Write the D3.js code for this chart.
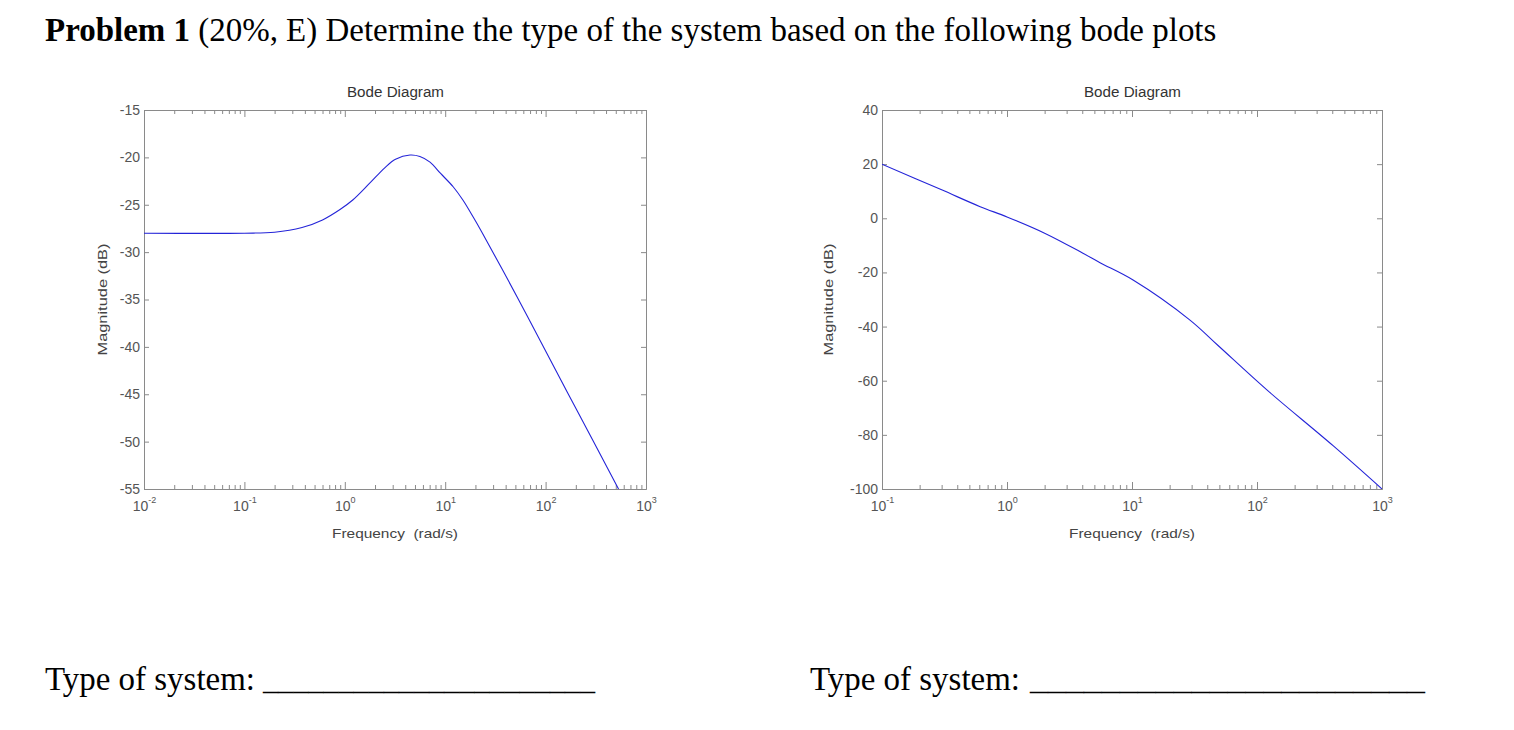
<!DOCTYPE html>
<meta charset="utf-8">
<script src="https://d3js.org/d3.v7.min.js"></script>
<style>
  body { margin: 0; background: #fff; }
  svg { display: block; }
  .tick text { font-family: "Liberation Sans", Arial, sans-serif; font-size: 14px; fill: #555; }
  .tick line, .domain { stroke: #8a8a8a; }
</style>
<div id="chart"></div>
<script>

// values
var leftFreq = [0.01, 0.1, 0.2, 0.375, 0.6, 0.896, 1.2, 1.78, 2.5, 3.2, 4.46, 5.6, 7.06, 9.0, 12, 15.0, 19, 23.2, 51.9, 87.9, 205, 526, 560];
var leftMag  = [-28, -28, -27.9, -27.4, -26.6, -25.5, -24.5, -22.7, -21.1, -20.2, -19.75, -19.9, -20.5, -21.7, -23.1, -24.5, -26.3, -27.9, -34.7, -39.3, -46.7, -54.9, -55.5];

var rightFreq = [0.1, 0.3, 0.61, 1, 2, 4.05, 5.55, 10.2, 29.1, 48.8, 120, 406, 1000];
var rightMag  = [20, 10.5, 4.3, 0.5, -5.5, -12.9, -16.4, -22.8, -37.6, -47.0, -63.4, -84, -100];

var leftYTicks = [-55, -50, -45, -40, -35, -30, -25, -20, -15];
var rightYTicks = [-100, -80, -60, -40, -20, 0, 20, 40];

var width = 1514, height = 730;

var svg = d3.select("#chart")
  .append("svg")
  .attr("width", width)
  .attr("height", height);

svg.append("rect").attr("width", width).attr("height", height).attr("fill", "#fff");

// heading
var head = svg.append("text")
  .attr("x", 45)
  .attr("y", 41)
  .style("font-family", "'Liberation Serif', 'Times New Roman', serif")
  .style("font-size", "28px")
  .attr("fill", "#000");
head.append("tspan").style("font-weight", "bold").text("Problem 1");
head.append("tspan").text(" (20%, E) Determine the type of the system based on the following bode plots");
var hw = head.node().getComputedTextLength();
head.style("font-size", (28 * 1172 / hw) + "px");

function drawBode(freq, mag, yTicks, box, xDomain) {
  var x = d3.scaleLog().domain(xDomain).range([box.left, box.right]);
  var y = d3.scaleLinear().domain([yTicks[0], yTicks[yTicks.length - 1]]).range([box.bottom, box.top]);

  // minor log ticks 2..9 in each decade
  var minor = [];
  var lo = Math.round(Math.log10(xDomain[0])), hi = Math.round(Math.log10(xDomain[1]));
  var major = d3.range(lo, hi + 1).map(function (p) { return Math.pow(10, p); });
  major.forEach(function (m, i) {
    if (i < major.length - 1) d3.range(2, 10).forEach(function (k) { minor.push(m * k); });
  });

  var g = svg.append("g");

  // bottom: minor, major (labels added after)
  g.append("g").attr("transform", "translate(0," + box.bottom + ")")
    .call(d3.axisBottom(x).tickValues(minor).tickSizeInner(-4).tickSizeOuter(0).tickFormat(""));
  var bx = g.append("g").attr("transform", "translate(0," + box.bottom + ")")
    .call(d3.axisBottom(x).tickValues(major).tickSizeInner(-7).tickSizeOuter(0).tickFormat(function () { return ""; }));
  bx.selectAll(".tick").each(function (d) {
    var t = d3.select(this).select("text").attr("dy", null).attr("y", 22);
    t.append("tspan").text("10");
    t.append("tspan").attr("dy", -8).attr("font-size", "9px").text(Math.round(Math.log10(d)));
  });
  // top
  g.append("g").attr("transform", "translate(0," + box.top + ")")
    .call(d3.axisTop(x).tickValues(minor).tickSizeInner(-4).tickSizeOuter(0).tickFormat(""));
  g.append("g").attr("transform", "translate(0," + box.top + ")")
    .call(d3.axisTop(x).tickValues(major).tickSizeInner(-7).tickSizeOuter(0).tickFormat(""));
  // left and right
  g.append("g").attr("transform", "translate(" + box.left + ",0)")
    .call(d3.axisLeft(y).tickValues(yTicks).tickSizeInner(-5).tickSizeOuter(0).tickPadding(4)
      .tickFormat(function (d) { return String(d); }));
  g.append("g").attr("transform", "translate(" + box.right + ",0)")
    .call(d3.axisRight(y).tickValues(yTicks).tickSizeInner(-5).tickSizeOuter(0).tickFormat(""));

  // curve, clipped to the box
  var clipId = "clip" + box.left;
  svg.append("clipPath").attr("id", clipId).append("rect")
    .attr("x", box.left).attr("y", box.top)
    .attr("width", box.right - box.left).attr("height", box.bottom - box.top);

  var line = d3.line()
    .x(function (d) { return x(d[0]); })
    .y(function (d) { return y(d[1]); })
    .curve(d3.curveCatmullRom.alpha(0.5));

  svg.append("path")
    .datum(freq.map(function (f, i) { return [f, mag[i]]; }))
    .attr("clip-path", "url(#" + clipId + ")")
    .attr("fill", "none")
    .attr("stroke", "#2424d8")
    .attr("stroke-width", 1.1)
    .attr("d", line);

  var cx = (box.left + box.right) / 2;
  var font = "'Liberation Sans', Arial, sans-serif";
  svg.append("text")
    .attr("x", cx - 48).attr("y", box.top - 13)
    .style("font-family", font)
    .style("font-size", "14px")
    .attr("fill", "#333")
    .attr("textLength", 97)
    .attr("lengthAdjust", "spacingAndGlyphs")
    .text("Bode Diagram");
  svg.append("text")
    .attr("x", cx - 63).attr("y", box.bottom + 49)
    .style("font-family", font)
    .style("font-size", "13.5px")
    .attr("fill", "#444")
    .attr("xml:space", "preserve")
    .attr("textLength", 126)
    .attr("lengthAdjust", "spacingAndGlyphs")
    .text("Frequency  (rad/s)");
  svg.append("text")
    .attr("transform", "translate(" + box.yLabelX + "," + ((box.top + box.bottom) / 2 + 56) + ") rotate(-90)")
    .style("font-family", font)
    .style("font-size", "13.5px")
    .attr("fill", "#444")
    .attr("textLength", 112)
    .attr("lengthAdjust", "spacingAndGlyphs")
    .text("Magnitude (dB)");
}

drawBode(leftFreq, leftMag, leftYTicks, { left: 144, right: 646, top: 110, bottom: 489, yLabelX: 107 }, [0.01, 1000]);
drawBode(rightFreq, rightMag, rightYTicks, { left: 882, right: 1382, top: 110, bottom: 489, yLabelX: 833 }, [0.1, 1000]);

// answer blanks
function blank(xText, xLine, lineEnd) {
  var t = svg.append("text")
    .attr("x", xText).attr("y", 690)
    .style("font-family", "'Liberation Serif', 'Times New Roman', serif")
    .style("font-size", "30px")
    .attr("fill", "#000")
    .text("Type of system:");
  var w = t.node().getComputedTextLength();
  t.style("font-size", (30 * 210 / w) + "px");
  svg.append("text")
    .attr("x", xLine).attr("y", 690)
    .style("font-family", "'Liberation Serif', 'Times New Roman', serif")
    .style("font-size", "30px")
    .attr("fill", "#000")
    .attr("textLength", lineEnd - xLine)
    .attr("lengthAdjust", "spacingAndGlyphs")
    .text("______________________");
}
blank(45, 263, 595);
blank(810, 1030, 1425);

</script>
